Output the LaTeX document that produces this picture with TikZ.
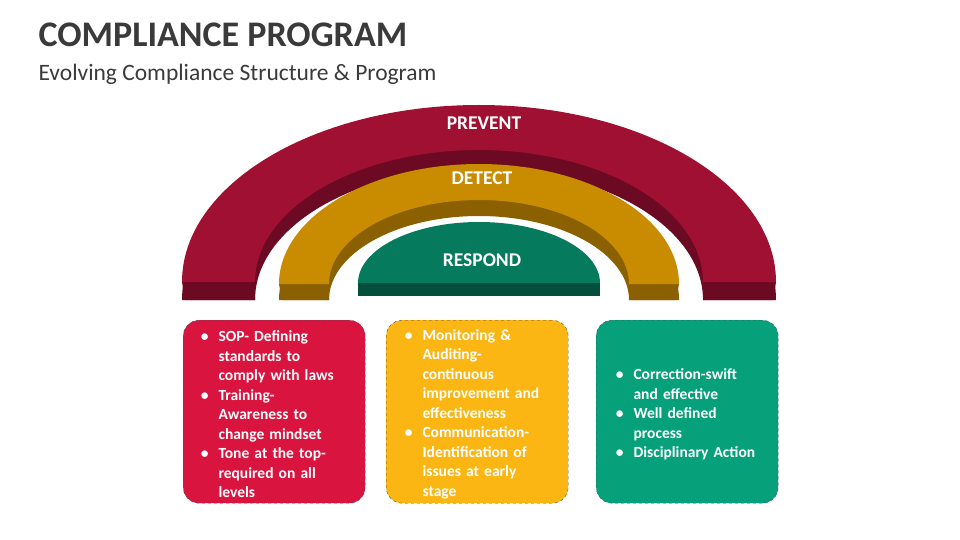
\documentclass[tikz,border=0pt]{standalone}
\usepackage{fontspec}
\setmainfont{Carlito}
\usepackage{enumitem}
\definecolor{pv}{HTML}{A01032}\definecolor{pvd}{HTML}{6C0A24}
\definecolor{dt}{HTML}{C98B00}\definecolor{dtd}{HTML}{8A6000}
\definecolor{rs}{HTML}{067A5C}\definecolor{rsd}{HTML}{044F3B}
\definecolor{bred}{HTML}{D8143F}\definecolor{byel}{HTML}{FBB614}\definecolor{bgrn}{HTML}{06A07A}
\definecolor{ttl}{HTML}{3A3A3A}
\tikzset{
 card/.style={draw=black!70,dashed,rounded corners=16pt,minimum width=182pt,minimum height=183pt,anchor=north west},
 cardtext/.style={text=white,font=\fontsize{15.5}{19.5}\selectfont\bfseries,text width=165pt,align=left,anchor=west},
 archlbl/.style={text=white,font=\fontsize{19.5}{22}\selectfont\bfseries}
}
\setlist[itemize]{leftmargin=19pt,labelsep=10pt,itemsep=0pt,topsep=0pt,parsep=0pt,label=\textbullet}
\begin{document}
\begin{tikzpicture}[x=1pt,y=-1pt]
\useasboundingbox (0,0) rectangle (960,540);
\node[anchor=west,text=ttl,font=\fontsize{36}{40}\selectfont\bfseries] (title) at (35,35) {COMPLIANCE PROGRAM};
\node[anchor=west,text=ttl,font=\fontsize{23.5}{27}\selectfont] (sub) at (35,74) {Evolving Compliance Structure \& Program};
% prevent
\fill[pvd] (182,300) arc[start angle=180,end angle=0,x radius=297pt,y radius=177pt] -- (703,300) arc[start angle=0,end angle=180,x radius=224pt,y radius=132pt] -- cycle;
\fill[pvd] (182,282) -- (185,300) -- (255,300) -- (255,282) -- cycle;
\fill[pvd] (776,282) -- (773,300) -- (703,300) -- (703,282) -- cycle;
\fill[pv] (182,282) arc[start angle=180,end angle=0,x radius=297pt,y radius=177pt] -- (703,282) arc[start angle=0,end angle=180,x radius=224pt,y radius=132pt] -- cycle;
% detect
\fill[dtd] (279,300) arc[start angle=180,end angle=0,x radius=200pt,y radius=120pt] -- (629,300) arc[start angle=0,end angle=180,x radius=150pt,y radius=84pt] -- cycle;
\fill[dtd] (279,284) -- (282,300) -- (329,300) -- (329,284) -- cycle;
\fill[dtd] (679,284) -- (676,300) -- (629,300) -- (629,284) -- cycle;
\fill[dt] (279,284) arc[start angle=180,end angle=0,x radius=200pt,y radius=120pt] -- (629,284) arc[start angle=0,end angle=180,x radius=150pt,y radius=84pt] -- cycle;
% respond
\fill[rsd] (358,283) rectangle (600,296);
\fill[rs] (358,283) arc[start angle=180,end angle=0,x radius=121pt,y radius=61pt] -- cycle;
\node[archlbl] (p) at (484,123) {PREVENT};
\node[archlbl] (d) at (482,178) {DETECT};
\node[archlbl] (r) at (482,260) {RESPOND};
% cards
\node[card,fill=bred] (c1) at (183,320) {};
\node[card,fill=byel] (c2) at (386,320) {};
\node[card,fill=bgrn] (c3) at (596,320) {};
\node[cardtext] (t1) at (196,410) {\begin{itemize}
\item SOP- Defining\\standards to\\comply with laws
\item Training-\\Awareness to\\change mindset
\item Tone at the top-\\required on all\\levels\end{itemize}};
\node[cardtext] (t2) at (400,410) {\begin{itemize}
\item Monitoring \&\\Auditing-\\continuous\\improvement and\\effectiveness
\item Communication-\\Identification of\\issues at early\\stage\end{itemize}};
\node[cardtext] (t3) at (611,410) {\begin{itemize}
\item Correction-swift\\and effective
\item Well defined\\process
\item Disciplinary Action\end{itemize}};
\end{tikzpicture}
\end{document}
